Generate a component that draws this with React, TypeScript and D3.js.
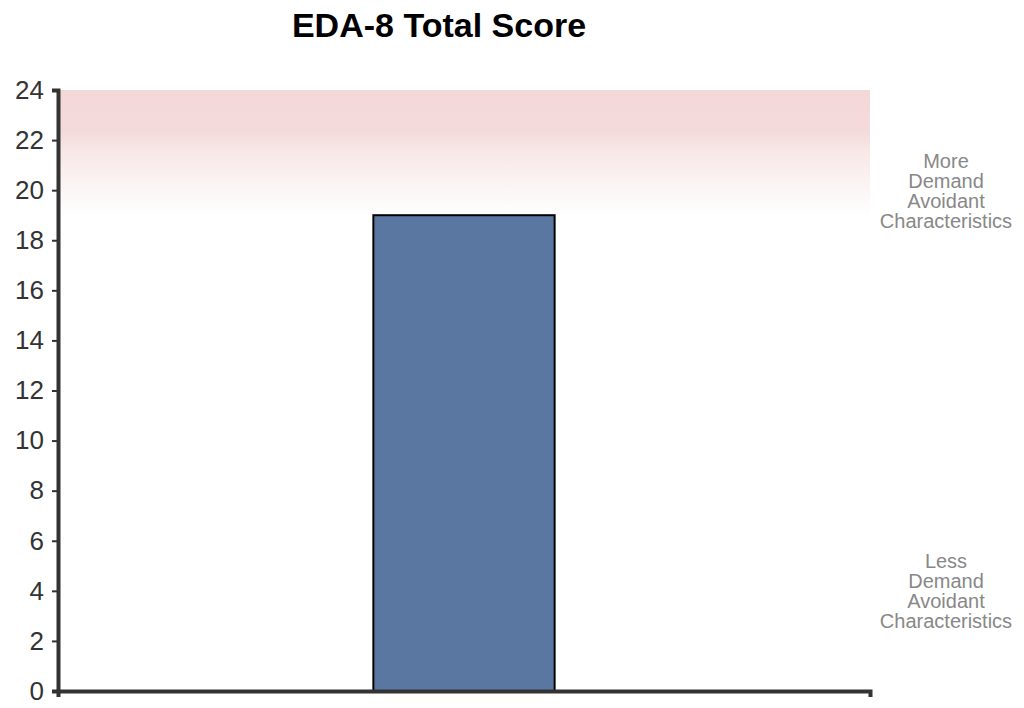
import { useEffect, useRef } from 'react'
import * as d3 from 'd3'

const categories = ['EDA-8']
const scores = [19]
const yTicks = [0, 2, 4, 6, 8, 10, 12, 14, 16, 18, 20, 22, 24]
const bandRange = [19, 24]
const moreLabel = ['More', 'Demand', 'Avoidant', 'Characteristics']
const lessLabel = ['Less', 'Demand', 'Avoidant', 'Characteristics']

export default function App() {
  const svgRef = useRef<SVGSVGElement>(null)

  useEffect(() => {
    if (!svgRef.current) return
    const svg = d3.select(svgRef.current)
    svg.selectAll('*').remove()

    const left = 58
    const right = 870
    const top = 90
    const bottom = 691

    const x = d3.scaleBand<string>()
      .domain(categories)
      .range([left, right])
      .padding(0.635)

    const y = d3.scaleLinear()
      .domain([0, 24])
      .range([bottom, top])

    const defs = svg.append('defs')
    const grad = defs.append('linearGradient')
      .attr('id', 'band-grad')
      .attr('x1', 0).attr('y1', 0).attr('x2', 0).attr('y2', 1)
    grad.append('stop').attr('offset', '0%').attr('stop-color', '#f3d8d8').attr('stop-opacity', 1)
    grad.append('stop').attr('offset', '32%').attr('stop-color', '#f3d8d8').attr('stop-opacity', 0.95)
    grad.append('stop').attr('offset', '50%').attr('stop-color', '#f3d8d8').attr('stop-opacity', 0.6)
    grad.append('stop').attr('offset', '75%').attr('stop-color', '#f3d8d8').attr('stop-opacity', 0.3)
    grad.append('stop').attr('offset', '100%').attr('stop-color', '#f3d8d8').attr('stop-opacity', 0)

    svg.append('rect')
      .attr('x', left)
      .attr('y', y(bandRange[1]))
      .attr('width', right - left)
      .attr('height', y(bandRange[0]) - y(bandRange[1]))
      .attr('fill', 'url(#band-grad)')

    svg.append('text')
      .attr('x', 439)
      .attr('y', 37)
      .attr('text-anchor', 'middle')
      .attr('font-family', 'Liberation Sans, Arial, sans-serif')
      .attr('font-weight', 'bold')
      .attr('font-size', 34)
      .attr('fill', '#000')
      .text('EDA-8 Total Score')

    svg.selectAll('.bar')
      .data(scores)
      .enter()
      .append('rect')
      .attr('class', 'bar')
      .attr('x', (_, i) => x(categories[i]) as number)
      .attr('y', d => y(d))
      .attr('width', x.bandwidth())
      .attr('height', d => y(0) - y(d))
      .attr('fill', '#5a77a2')
      .attr('stroke', '#000')
      .attr('stroke-width', 2)

    const yAxis = svg.append('g')
      .attr('transform', `translate(${left},0)`)
      .call(d3.axisLeft(y).tickValues(yTicks).tickSize(6).tickPadding(8))
    yAxis.select('.domain').attr('stroke', '#333').attr('stroke-width', 4)
    yAxis.selectAll('.tick line').attr('stroke', '#333').attr('stroke-width', 2)
    yAxis.selectAll('.tick text')
      .attr('fill', '#333')
      .attr('font-size', 26)
      .attr('font-family', 'Liberation Sans, Arial, sans-serif')

    const xAxis = svg.append('g')
      .attr('transform', `translate(0,${bottom})`)
      .call(d3.axisBottom(x).tickSize(0).tickSizeOuter(6).tickFormat(() => ''))
    xAxis.select('.domain').attr('stroke', '#333').attr('stroke-width', 4)

    const drawLabel = (lines: string[], y0: number) => {
      const t = svg.append('text')
        .attr('text-anchor', 'middle')
        .attr('font-family', 'Liberation Sans, Arial, sans-serif')
        .attr('font-size', 20)
        .attr('fill', '#888')
      lines.forEach((ln, i) => {
        t.append('tspan').attr('x', 946).attr('y', y0 + i * 20).text(ln)
      })
    }
    drawLabel(moreLabel, 168)
    drawLabel(lessLabel, 568)
  }, [])

  return (
    <svg
      ref={svgRef}
      width={1024}
      height={708}
      style={{ position: 'absolute', left: 0, top: 0, background: '#fff' }}
    />
  )
}
